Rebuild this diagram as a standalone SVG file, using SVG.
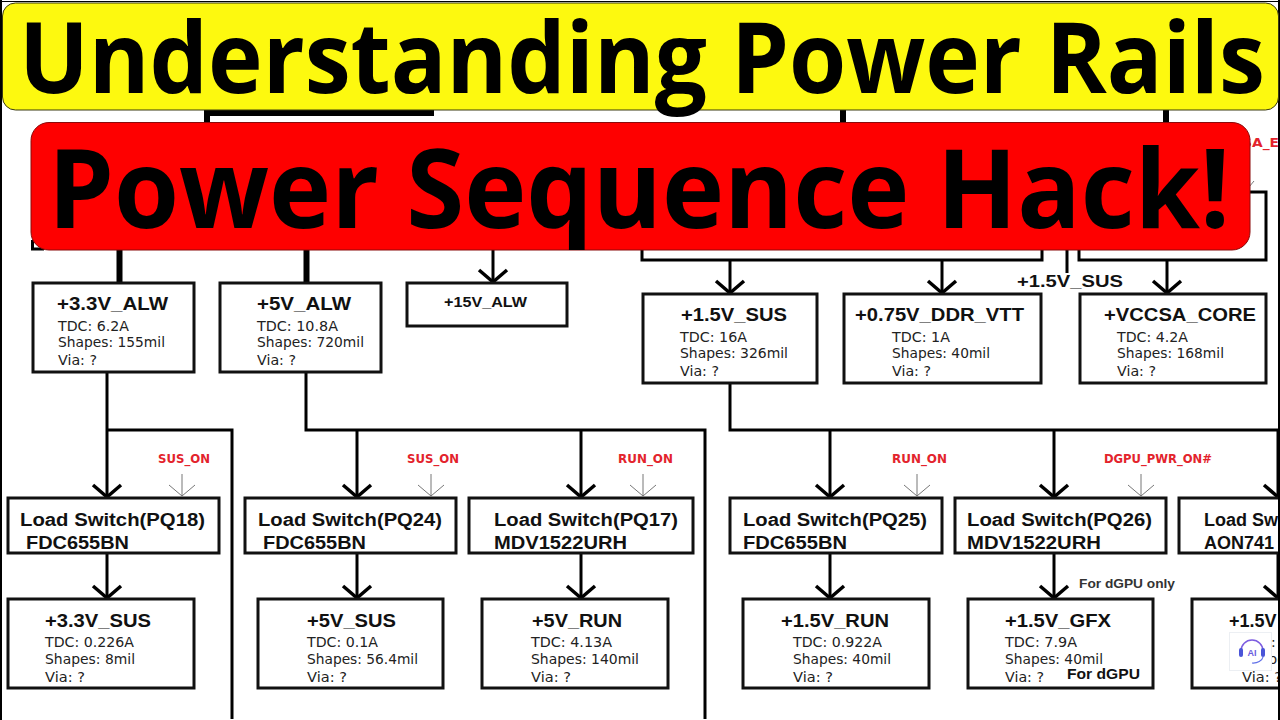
<svg xmlns="http://www.w3.org/2000/svg" width="1280" height="720" viewBox="0 0 1280 720">
<style>
text{font-family:"Liberation Sans",Arial,sans-serif;fill:#000}
.name{font-weight:bold;font-size:18px;fill:#111}
.d{font-family:"DejaVu Sans",sans-serif;font-size:14px;fill:#222}
.sw{font-weight:bold;font-size:18px;fill:#111}
.sig{font-family:"DejaVu Sans",sans-serif;font-weight:bold;font-size:12.5px;fill:#e3232c}
.hd{font-family:"Open Sans",sans-serif;font-weight:bold;fill:#000}
.box{fill:#fff;stroke:#111;stroke-width:3}
.w{fill:none;stroke:#000;stroke-width:3}
.th{fill:none;stroke:#000;stroke-width:6}
.a{fill:none;stroke:#000;stroke-width:3;marker-end:url(#ah)}
.g{fill:none;stroke:#777;stroke-width:1;marker-end:url(#gh)}
</style>
<defs>
<marker id="ah" markerUnits="userSpaceOnUse" viewBox="-16 -17 20 34" markerWidth="20" markerHeight="34" refX="0" refY="0" orient="auto"><path d="M-12 -14L0 0L-12 14" fill="none" stroke="#000" stroke-width="3.5"/></marker>
<marker id="gh" markerUnits="userSpaceOnUse" viewBox="-16 -17 20 34" markerWidth="20" markerHeight="34" refX="0" refY="0" orient="auto"><path d="M-11 -13L0 0L-11 13" fill="none" stroke="#777" stroke-width="1"/></marker>
<clipPath id="redclip"><rect x="31" y="122" width="1219" height="128" rx="18"/></clipPath>
</defs>
<rect width="1280" height="720" fill="#fff"/>
<g id="connectors">
<path class="th" d="M207 122V113H434"/>
<path class="th" d="M843 122V110M1166 122V110"/>
<path class="th" d="M119.500 250V282M306.500 250V282"/>
<path class="a" d="M493 250V282"/>
<path class="w" d="M642 250V260H1042V250M1079 250V260H1266V192H1250M1067 250V273"/>
<path class="a" d="M730 260V293"/>
<path class="a" d="M942 260V293"/>
<path class="a" d="M1167 260V293"/>
<path class="w" d="M107 430H232V719M306 373V430H705V719M730 383V430H1278"/>
<path class="a" d="M107 373V497"/>
<path class="a" d="M357 430V497"/>
<path class="a" d="M581 430V497"/>
<path class="a" d="M830 430V497"/>
<path class="a" d="M1054 430V497"/>
<path class="a" d="M1278 430V497"/>
<path class="a" d="M107 554V598"/>
<path class="a" d="M357 554V598"/>
<path class="a" d="M581 554V598"/>
<path class="a" d="M830 554V598"/>
<path class="a" d="M1054 554V598"/>
<path class="a" d="M1278 554V598"/>
<path class="g" d="M182 474V496"/>
<path class="g" d="M431 474V496"/>
<path class="g" d="M643 474V496"/>
<path class="g" d="M917 474V496"/>
<path class="g" d="M1141 474V496"/>
<path d="M1249 187L1254 181" fill="none" stroke="#777" stroke-width="1"/>
<path class="w" d="M32.500 240V249H44"/>
</g>
<text class="sig" x="1242" y="147" textLength="37" lengthAdjust="spacingAndGlyphs">SA_E</text>
<g id="n-33alw"><rect class="box" x="33" y="283" width="161" height="89"/><text class="name" x="57" y="310" textLength="111" lengthAdjust="spacingAndGlyphs">+3.3V_ALW</text><text class="d" x="58" y="331" textLength="71" lengthAdjust="spacingAndGlyphs">TDC: 6.2A</text><text class="d" x="58" y="347" textLength="107" lengthAdjust="spacingAndGlyphs">Shapes: 155mil</text><text class="d" x="58" y="365" textLength="39" lengthAdjust="spacingAndGlyphs">Via: ?</text></g>
<g id="n-5alw"><rect class="box" x="220" y="283" width="161" height="89"/><text class="name" x="257" y="310" textLength="94" lengthAdjust="spacingAndGlyphs">+5V_ALW</text><text class="d" x="257" y="331" textLength="81" lengthAdjust="spacingAndGlyphs">TDC: 10.8A</text><text class="d" x="257" y="347" textLength="107" lengthAdjust="spacingAndGlyphs">Shapes: 720mil</text><text class="d" x="257" y="365" textLength="39" lengthAdjust="spacingAndGlyphs">Via: ?</text></g>
<g id="n-15alw"><rect class="box" x="407" y="283" width="160" height="43"/><text class="name" style="font-size:14px" x="444" y="307" textLength="83" lengthAdjust="spacingAndGlyphs">+15V_ALW</text></g>
<g id="n-15sus"><rect class="box" x="643" y="294" width="174" height="89"/><text class="name" x="681" y="321" textLength="106" lengthAdjust="spacingAndGlyphs">+1.5V_SUS</text><text class="d" x="680" y="342" textLength="67" lengthAdjust="spacingAndGlyphs">TDC: 16A</text><text class="d" x="680" y="358" textLength="108" lengthAdjust="spacingAndGlyphs">Shapes: 326mil</text><text class="d" x="680" y="376" textLength="39" lengthAdjust="spacingAndGlyphs">Via: ?</text></g>
<g id="n-075ddr"><rect class="box" x="844" y="294" width="197" height="89"/><text class="name" x="855" y="321" textLength="169" lengthAdjust="spacingAndGlyphs">+0.75V_DDR_VTT</text><text class="d" x="892" y="342" textLength="58" lengthAdjust="spacingAndGlyphs">TDC: 1A</text><text class="d" x="892" y="358" textLength="98" lengthAdjust="spacingAndGlyphs">Shapes: 40mil</text><text class="d" x="892" y="376" textLength="39" lengthAdjust="spacingAndGlyphs">Via: ?</text></g>
<g id="n-vccsa"><rect class="box" x="1080" y="294" width="186" height="89"/><text class="name" x="1104" y="321" textLength="152" lengthAdjust="spacingAndGlyphs">+VCCSA_CORE</text><text class="d" x="1117" y="342" textLength="71" lengthAdjust="spacingAndGlyphs">TDC: 4.2A</text><text class="d" x="1117" y="358" textLength="107" lengthAdjust="spacingAndGlyphs">Shapes: 168mil</text><text class="d" x="1117" y="376" textLength="39" lengthAdjust="spacingAndGlyphs">Via: ?</text></g>
<text class="name" style="font-size:16px" x="1017" y="287" textLength="106" lengthAdjust="spacingAndGlyphs">+1.5V_SUS</text>
<text class="sig" x="158" y="463" textLength="52" lengthAdjust="spacingAndGlyphs">SUS_ON</text>
<text class="sig" x="407" y="463" textLength="52" lengthAdjust="spacingAndGlyphs">SUS_ON</text>
<text class="sig" x="618" y="463" textLength="55" lengthAdjust="spacingAndGlyphs">RUN_ON</text>
<text class="sig" x="892" y="463" textLength="55" lengthAdjust="spacingAndGlyphs">RUN_ON</text>
<text class="sig" x="1104" y="463" textLength="108" lengthAdjust="spacingAndGlyphs">DGPU_PWR_ON#</text>
<g id="ls-pq18"><rect class="box" x="8" y="498" width="211" height="55"/><text class="sw" x="20" y="526" textLength="185" lengthAdjust="spacingAndGlyphs">Load Switch(PQ18)</text><text class="sw" x="26" y="549" textLength="103" lengthAdjust="spacingAndGlyphs">FDC655BN</text></g>
<g id="ls-pq24"><rect class="box" x="245" y="498" width="211" height="55"/><text class="sw" x="258" y="526" textLength="184" lengthAdjust="spacingAndGlyphs">Load Switch(PQ24)</text><text class="sw" x="263" y="549" textLength="103" lengthAdjust="spacingAndGlyphs">FDC655BN</text></g>
<g id="ls-pq17"><rect class="box" x="469" y="498" width="224" height="55"/><text class="sw" x="494" y="526" textLength="184" lengthAdjust="spacingAndGlyphs">Load Switch(PQ17)</text><text class="sw" x="494" y="549" textLength="133" lengthAdjust="spacingAndGlyphs">MDV1522URH</text></g>
<g id="ls-pq25"><rect class="box" x="730" y="498" width="212" height="55"/><text class="sw" x="743" y="526" textLength="184" lengthAdjust="spacingAndGlyphs">Load Switch(PQ25)</text><text class="sw" x="743" y="549" textLength="104" lengthAdjust="spacingAndGlyphs">FDC655BN</text></g>
<g id="ls-pq26"><rect class="box" x="955" y="498" width="211" height="55"/><text class="sw" x="967" y="526" textLength="185" lengthAdjust="spacingAndGlyphs">Load Switch(PQ26)</text><text class="sw" x="967" y="549" textLength="134" lengthAdjust="spacingAndGlyphs">MDV1522URH</text></g>
<g id="ls-aon"><rect class="box" x="1179" y="498" width="120" height="55"/><text class="sw" x="1204" y="526">Load Sw</text><text class="sw" x="1204" y="549">AON741</text></g>
<g id="n-33sus"><rect class="box" x="8" y="599" width="186" height="89"/><text class="name" x="45" y="627" textLength="106" lengthAdjust="spacingAndGlyphs">+3.3V_SUS</text><text class="d" x="45" y="647" textLength="89" lengthAdjust="spacingAndGlyphs">TDC: 0.226A</text><text class="d" x="45" y="664" textLength="90" lengthAdjust="spacingAndGlyphs">Shapes: 8mil</text><text class="d" x="45" y="682" textLength="40" lengthAdjust="spacingAndGlyphs">Via: ?</text></g>
<g id="n-5sus"><rect class="box" x="258" y="599" width="185" height="89"/><text class="name" x="307" y="627" textLength="89" lengthAdjust="spacingAndGlyphs">+5V_SUS</text><text class="d" x="307" y="647" textLength="71" lengthAdjust="spacingAndGlyphs">TDC: 0.1A</text><text class="d" x="307" y="664" textLength="111" lengthAdjust="spacingAndGlyphs">Shapes: 56.4mil</text><text class="d" x="307" y="682" textLength="40" lengthAdjust="spacingAndGlyphs">Via: ?</text></g>
<g id="n-5run"><rect class="box" x="482" y="599" width="186" height="89"/><text class="name" x="532" y="627" textLength="90" lengthAdjust="spacingAndGlyphs">+5V_RUN</text><text class="d" x="531" y="647" textLength="81" lengthAdjust="spacingAndGlyphs">TDC: 4.13A</text><text class="d" x="531" y="664" textLength="108" lengthAdjust="spacingAndGlyphs">Shapes: 140mil</text><text class="d" x="531" y="682" textLength="40" lengthAdjust="spacingAndGlyphs">Via: ?</text></g>
<g id="n-15run"><rect class="box" x="743" y="599" width="186" height="89"/><text class="name" x="781" y="627" textLength="108" lengthAdjust="spacingAndGlyphs">+1.5V_RUN</text><text class="d" x="793" y="647" textLength="89" lengthAdjust="spacingAndGlyphs">TDC: 0.922A</text><text class="d" x="793" y="664" textLength="98" lengthAdjust="spacingAndGlyphs">Shapes: 40mil</text><text class="d" x="793" y="682" textLength="40" lengthAdjust="spacingAndGlyphs">Via: ?</text></g>
<g id="n-15gfx"><rect class="box" x="968" y="599" width="185" height="89"/><text class="name" x="1005" y="627" textLength="106" lengthAdjust="spacingAndGlyphs">+1.5V_GFX</text><text class="d" x="1005" y="647" textLength="72" lengthAdjust="spacingAndGlyphs">TDC: 7.9A</text><text class="d" x="1005" y="664" textLength="98" lengthAdjust="spacingAndGlyphs">Shapes: 40mil</text><text class="d" x="1005" y="682" textLength="39" lengthAdjust="spacingAndGlyphs">Via: ?</text><text class="name" style="font-size:14px" x="1067" y="679" textLength="73" lengthAdjust="spacingAndGlyphs">For dGPU</text></g>
<text class="name" style="font-size:13px;fill:#333" x="1079" y="588" textLength="96" lengthAdjust="spacingAndGlyphs">For dGPU only</text>
<g id="n-15last"><rect class="box" x="1192" y="599" width="110" height="89"/><text class="name" x="1229" y="627">+1.5V</text><text class="d" x="1242" y="647">TDC:</text><text class="d" x="1242" y="664">Shapes</text><text class="d" x="1242" y="682" textLength="40" lengthAdjust="spacingAndGlyphs">Via: ?</text></g>
<g id="logo">
<rect x="1229.500" y="632.500" width="42" height="38" fill="#fff" stroke="#eceff3"/>
<path d="M1241 651a11 11 0 0 1 22 0" fill="none" stroke="#7c5ce0" stroke-width="1.500"/>
<path d="M1263 657a10 7 0 0 1-11 6" fill="none" stroke="#5f6fe8" stroke-width="1.200"/>
<rect x="1239" y="648" width="4" height="9" rx="2" fill="#4a55d8"/><rect x="1261" y="648" width="4" height="9" rx="2" fill="#4a55d8"/>
<text x="1252" y="656" text-anchor="middle" style="font-size:9px;font-weight:bold;fill:#6a5ce0">AI</text>
</g>
<rect id="edge-l" x="0" y="0" width="2" height="720" fill="#000"/>
<rect id="edge-r" x="1278" y="0" width="2" height="720" fill="#000"/>
<rect id="edge-t" x="0" y="1" width="1280" height="1" fill="#000"/>
<g id="banner-top"><rect x="2.500" y="3" width="1276" height="107" rx="13" fill="#fdf90f" stroke="#3a3a10" stroke-width="1"/><text class="hd" x="19" y="93" font-size="98" textLength="1246" lengthAdjust="spacingAndGlyphs">Understanding Power Rails</text></g>
<g id="banner-red"><rect x="31" y="122.500" width="1219" height="127.500" rx="18" fill="#fe0000" stroke="#8a0a0a" stroke-width="1"/><text class="hd" x="48" y="228" font-size="109" textLength="1182" lengthAdjust="spacingAndGlyphs" clip-path="url(#redclip)">Power Sequence Hack!</text></g>
</svg>
